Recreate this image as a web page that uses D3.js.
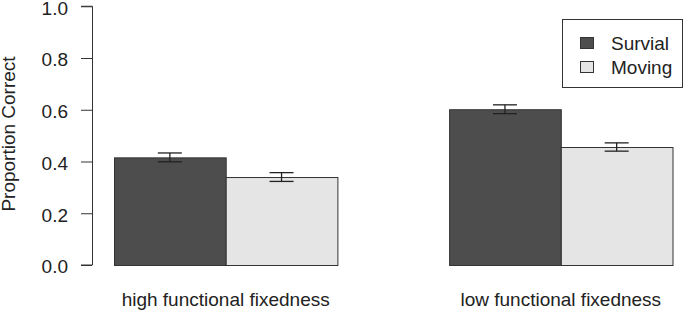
<!DOCTYPE html>
<html><head><meta charset="utf-8">
<script src="https://cdn.jsdelivr.net/npm/d3@7"></script>
<style>body{margin:0;background:#fff}svg{display:block}text{font-family:"Liberation Sans",Arial,sans-serif;fill:#222}</style>
</head><body><svg id="c" width="685" height="312"></svg>
<script>
const categories = ["high functional fixedness", "low functional fixedness"];
const seriesNames = ["Survial", "Moving"];
const survial = [0.416, 0.602];
const moving = [0.340, 0.456];
const survialErr = [0.017, 0.017];
const movingErr = [0.017, 0.016];
const yTicks = [0, 0.2, 0.4, 0.6, 0.8, 1.0];
const colors = ["#4d4d4d", "#e5e5e5"];

const svg = d3.select("#c");
const y = d3.scaleLinear().domain([0, 1]).range([265, 6.25]);
const x = d3.scaleLinear().domain([0, 5]).range([114, 672.5]);
const fs = 19;

// y axis
const ax = svg.append("g").attr("transform", "translate(92,0)")
  .call(d3.axisLeft(y).tickValues(yTicks).tickFormat(d3.format(".1f")).tickSize(11).tickPadding(13));
ax.select(".domain").attr("stroke", "#333").attr("d", `M-11,${y(0)}H0.5V${y(1)}H-11`);
ax.selectAll(".tick line").attr("stroke", "#333");
ax.selectAll(".tick text").attr("font-size", fs).attr("fill", "#222").attr("dy", "0.42em")
  .attr("font-family", "Liberation Sans, Arial, sans-serif");

svg.append("text").attr("transform", "translate(15,134) rotate(-90)")
  .attr("text-anchor", "middle").attr("font-size", fs).text("Proportion Correct");

const data = [];
categories.forEach((c, i) => {
  data.push({g: i, s: 0, v: survial[i], e: survialErr[i]});
  data.push({g: i, s: 1, v: moving[i], e: movingErr[i]});
});
const pos = d => d.g * 3 + d.s;

svg.append("g").selectAll("rect").data(data).join("rect")
  .attr("x", d => x(pos(d)) + 0.5).attr("width", d => x(pos(d) + 1) - x(pos(d)))
  .attr("y", d => y(d.v) + 0.5).attr("height", d => y(0) - y(d.v))
  .attr("fill", d => colors[d.s]).attr("stroke", "#333").attr("stroke-width", 1);

const eb = svg.append("g").attr("stroke", "#222").attr("stroke-width", 1.3);
data.forEach(d => {
  const cx = x(pos(d) + 0.5);
  eb.append("line").attr("x1", cx).attr("x2", cx).attr("y1", y(d.v + d.e)).attr("y2", y(d.v - d.e));
  [d.v + d.e, d.v - d.e].forEach(v => eb.append("line").attr("x1", cx - 12).attr("x2", cx + 12).attr("y1", y(v)).attr("y2", y(v)));
});

svg.append("g").selectAll("text").data(categories).join("text")
  .attr("x", (d, i) => x(i * 3 + 1)).attr("y", 306).attr("text-anchor", "middle")
  .attr("font-size", fs).text(d => d);

// legend
const lg = svg.append("g");
lg.append("rect").attr("x", 562.5).attr("y", 19.5).attr("width", 120).attr("height", 68)
  .attr("fill", "#fff").attr("stroke", "#333");
seriesNames.forEach((n, i) => {
  lg.append("rect").attr("x", 580.5).attr("y", 37.5 + i * 24).attr("width", 13).attr("height", 11)
    .attr("fill", colors[i]).attr("stroke", "#333");
  lg.append("text").attr("x", 611).attr("y", 43 + i * 24).attr("dy", "0.35em").attr("font-size", fs).text(n);
});
</script></body></html>
